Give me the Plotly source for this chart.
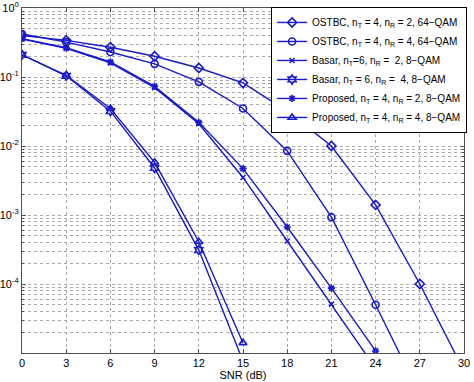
import plotly.graph_objects as go

snr = [0, 3, 6, 9, 12, 15, 18, 21, 24, 27, 30]

ostbc_42 = [0.40, 0.34, 0.27, 0.20, 0.135, 0.082, 0.032, 0.0100, 0.0014, 1.0e-4, 5.5e-6]
ostbc_44 = [0.42, 0.32, 0.23, 0.155, 0.085, 0.035, 0.0085, 9.3e-4, 5.0e-5, 2.5e-6]
basar_62 = [0.355, 0.26, 0.16, 0.070, 0.021, 0.0035, 4.2e-4, 5.1e-5, 6.0e-6]
basar_64 = [0.21, 0.104, 0.032, 0.0048, 3.1e-4, 7.6e-6]
prop_42 = [0.36, 0.265, 0.165, 0.073, 0.022, 0.0047, 6.7e-4, 8.7e-5, 1.07e-5]
prop_44 = [0.21, 0.106, 0.035, 0.0058, 4.1e-4, 1.4e-5]

names = [
    "OSTBC, n<sub>T</sub> = 4, n<sub>R</sub> = 2, 64\u2212QAM",
    "OSTBC, n<sub>T</sub> = 4, n<sub>R</sub> = 4, 64\u2212QAM",
    "Basar, n<sub>T</sub>=6, n<sub>R</sub> =  2, 8\u2212QAM",
    "Basar, n<sub>T</sub> = 6, n<sub>R</sub> =  4, 8\u2212QAM",
    "Proposed, n<sub>T</sub> = 4, n<sub>R</sub> = 2, 8\u2212QAM",
    "Proposed, n<sub>T</sub> = 4, n<sub>R</sub> = 4, 8\u2212QAM",
]
series = [ostbc_42, ostbc_44, basar_62, basar_64, prop_42, prop_44]
symbols = ["diamond-open", "circle-open", "x-thin-open", "hexagram-open", "asterisk-open", "triangle-up-open"]
sizes = [7, 7, 5, 7, 6, 7]

ytick_vals = [1e-4, 1e-3, 1e-2, 1e-1, 1e0]
ytick_text = ["10<sup>-4</sup>", "10<sup>-3</sup>", "10<sup>-2</sup>", "10<sup>-1</sup>", "10<sup>0</sup>"]
yminor_vals = [m * 10.0 ** e for e in range(-5, 0) for m in range(2, 10)]

blue = "rgb(25,25,205)"

fig = go.Figure()
for name, ys, sym, sz in zip(names, series, symbols, sizes):
    fig.add_trace(go.Scatter(
        x=snr[:len(ys)], y=ys, name=name, mode="lines+markers",
        line=dict(color=blue, width=1.4),
        marker=dict(symbol=sym, size=sz, color=blue, line=dict(color=blue, width=1.6)),
    ))

grid = "rgb(170,170,170)"
axcol = "rgb(80,80,80)"

fig.update_layout(
    width=474, height=382,
    margin=dict(l=22, r=7, t=8, b=29),
    paper_bgcolor="white", plot_bgcolor="white",
    font=dict(family="Liberation Sans, Arial, sans-serif", size=11, color="black"),
    legend=dict(x=1.007, y=1.003, xanchor="right", yanchor="top",
                bgcolor="white", bordercolor="black", borderwidth=1,
                font=dict(size=10), tracegroupgap=0, itemwidth=30),
    showlegend=True,
)
fig.update_xaxes(
    range=[0, 30], tickvals=snr, ticktext=[str(v) for v in snr],
    showgrid=True, gridcolor=grid, griddash="dot", gridwidth=1,
    showline=True, linecolor=axcol, mirror="ticks",
    ticks="inside", ticklen=4, tickcolor=axcol,
    zeroline=False, automargin=False,
    title=dict(text="SNR (dB)", standoff=1, font=dict(size=11)),
)
fig.update_yaxes(
    type="log", range=[-5, 0], tickvals=ytick_vals, ticktext=ytick_text,
    showgrid=True, gridcolor=grid, griddash="dot", gridwidth=1,
    minor=dict(tickvals=yminor_vals, showgrid=True, gridcolor=grid, griddash="dot",
               gridwidth=1, ticks="inside", ticklen=2, tickcolor=axcol),
    showline=True, linecolor=axcol, mirror="ticks",
    ticks="inside", ticklen=4, tickcolor=axcol,
    zeroline=False, automargin=False, ticklabelstandoff=0,
)

fig.write_html("out.html", config={"displayModeBar": False},
               post_script="document.body.style.margin='0';")
